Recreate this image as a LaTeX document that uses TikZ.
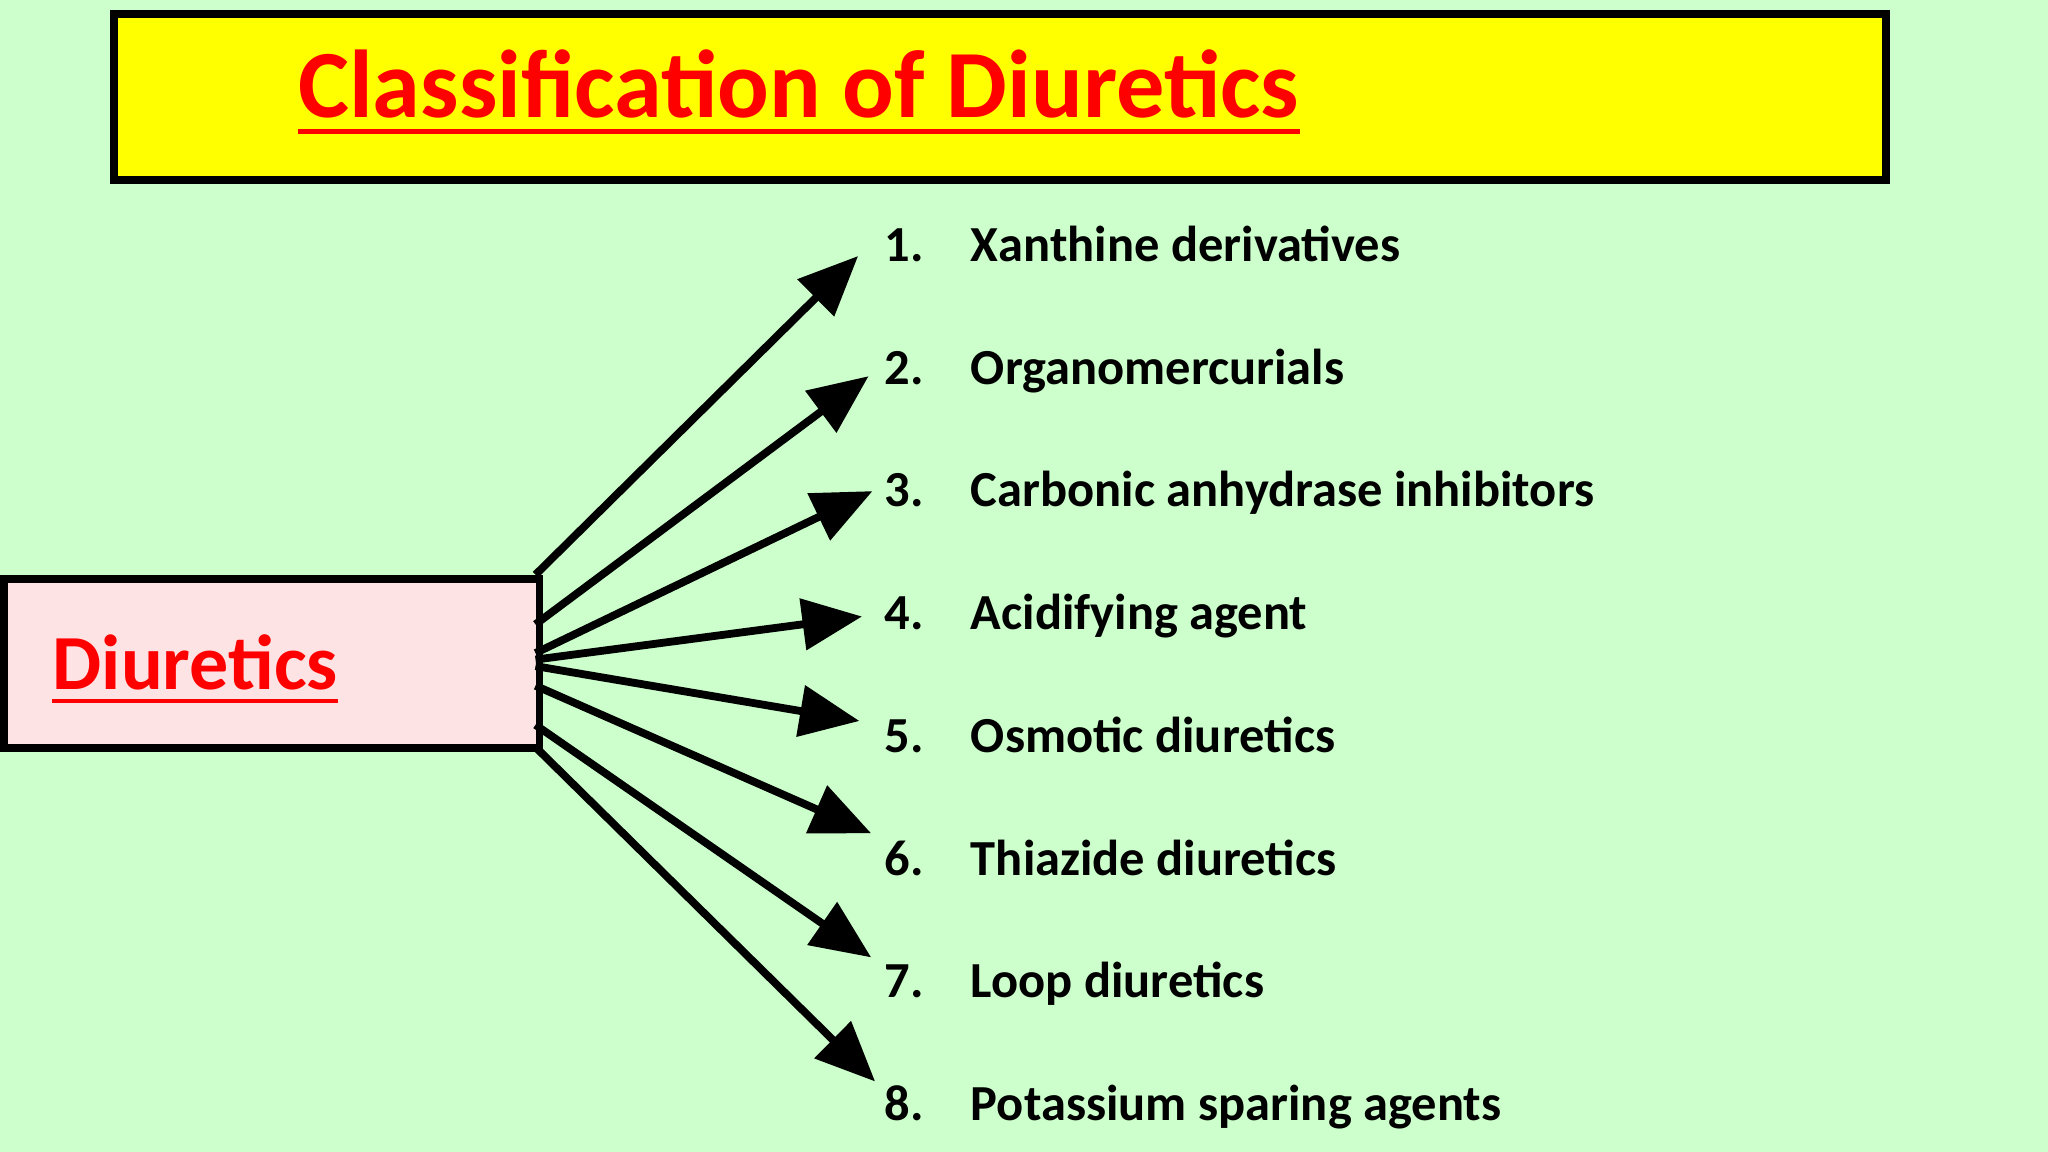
\documentclass[tikz,border=0pt]{standalone}
\usepackage{fontspec}
\setmainfont{Carlito}
\usetikzlibrary{arrows.meta}
\definecolor{bg}{HTML}{CCFFCC}
\definecolor{ttl}{HTML}{FFFF00}
\definecolor{pinkbox}{HTML}{FDE3E3}
\definecolor{redtxt}{HTML}{FF0000}
\begin{document}
\begin{tikzpicture}[x=0.02cm,y=-0.02cm,
  item/.style={anchor=base west,inner sep=0pt,font=\fontsize{22}{26}\selectfont\bfseries},
  arr/.style={line width=3.4pt,-{Triangle[length=26pt,width=22pt]}}]
\fill[bg] (0,0) rectangle (1568,882);
\useasboundingbox (0,0) rectangle (1568,882);
\node[draw=black,line width=3.4pt,fill=ttl,minimum width=1357*0.02cm,minimum height=127*0.02cm,anchor=north west,inner sep=0pt] (title) at (84,8) {};
\node[anchor=base west,inner sep=0pt,text=redtxt,font=\fontsize{42}{48}\selectfont\bfseries] (tt) at (228,90) {Classification of Diuretics};
\draw[redtxt,line width=2pt] ([yshift=-6pt]tt.base west) -- ([yshift=-6pt]tt.base east);
\node[draw=black,line width=3.4pt,fill=pinkbox,minimum width=410*0.02cm,minimum height=130*0.02cm,anchor=north west,inner sep=0pt] (box) at (0,440) {};
\node[anchor=base west,inner sep=0pt,text=redtxt,font=\fontsize{34}{40}\selectfont\bfseries] (dt) at (40,528) {Diuretics};
\draw[redtxt,line width=1.8pt] ([yshift=-5pt]dt.base west) -- ([yshift=-5pt]dt.base east);
\foreach \i/\t in {1/Xanthine derivatives,2/Organomercurials,3/Carbonic anhydrase inhibitors,4/Acidifying agent,5/Osmotic diuretics,6/Thiazide diuretics,7/Loop diuretics,8/Potassium sparing agents}{
  \node[item] (n\i) at (677,{106+94*\i}) {\i.};
  \node[item] (t\i) at (743,{106+94*\i}) {\t};
}
\foreach \i/\sy/\ex/\ey in {1/440/657/196,2/478/665/288,3/500/668/376,4/505/660/472,5/510/658/552,6/525/667/638,7/555/667/733,8/572/670/828}{
  \coordinate (s\i) at (410,\sy);
  \coordinate (e\i) at (\ex,\ey);
  \draw[arr] (s\i) -- (e\i);
}
\end{tikzpicture}
\end{document}
